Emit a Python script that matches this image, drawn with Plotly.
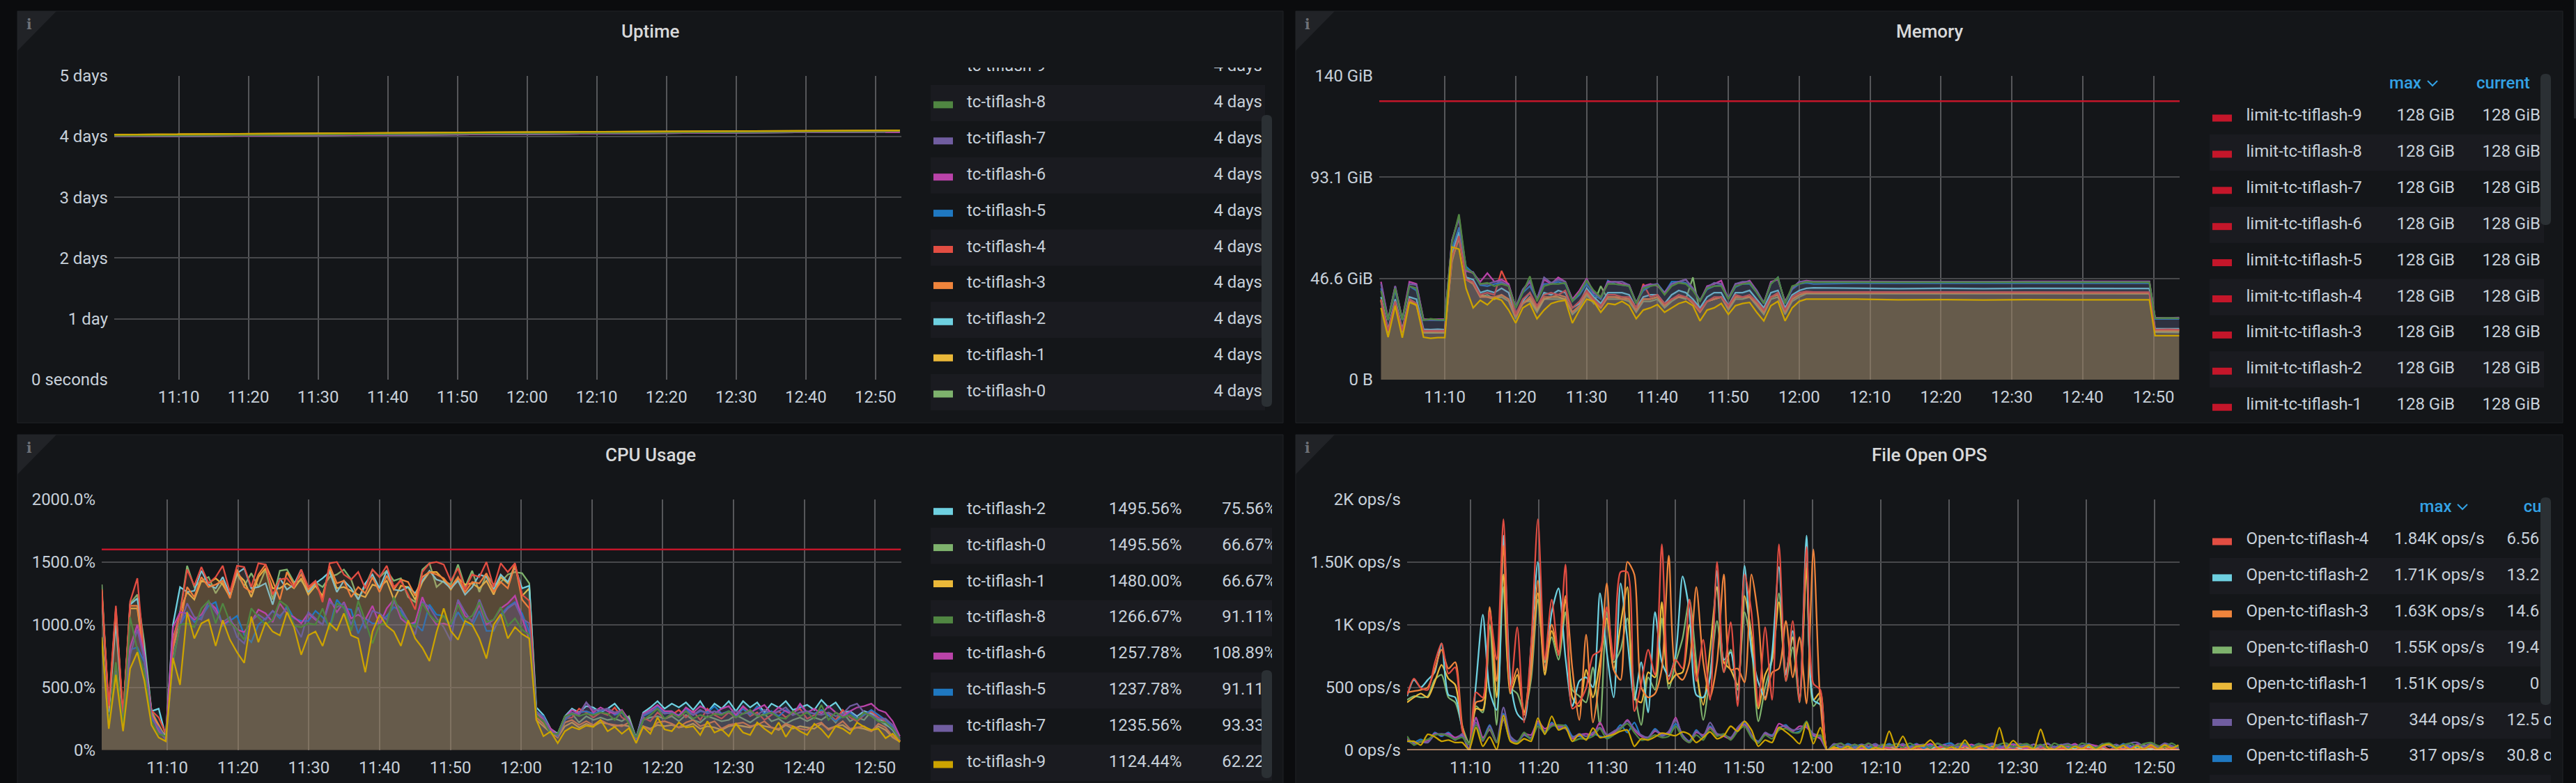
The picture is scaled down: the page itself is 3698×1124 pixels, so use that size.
import pandas as pd
import plotly.graph_objects as go

W, H = 3698, 1124
DAY = "2021-01-01 "
T_START, T_END = DAY + "11:00:45", DAY + "12:53:40"

COLORS = {"0": "#7EB26D", "1": "#EAB839", "2": "#6ED0E0", "3": "#EF843C", "4": "#E24D42",
          "5": "#1F78C1", "6": "#BA43A9", "7": "#705DA0", "8": "#508642", "9": "#CCA300"}
LIMIT = "#C4162A"
ORDER = ["0", "1", "2", "3", "4", "5", "6", "7", "8", "9"]

# ---------- Uptime (days) ----------
uptime_times = ["11:00:45", "11:55:00", "12:53:30"]
uptime = {
    "0": [4.01, 4.05, 4.09], "1": [4.03, 4.07, 4.10], "2": [4.00, 4.04, 4.08], "3": [4.00, 4.04, 4.08],
    "4": [4.01, 4.05, 4.09], "5": [4.00, 4.04, 4.08], "6": [4.00, 4.04, 4.08], "7": [4.01, 4.05, 4.09],
    "8": [4.01, 4.05, 4.09], "9": [4.03, 4.07, 4.10],
}
uptime_ticks = [0, 1, 2, 3, 4, 5]
uptime_ticktext = ["0 seconds", "1 day", "2 days", "3 days", "4 days", "5 days"]
uptime_legend = ["tc-tiflash-9", "tc-tiflash-8", "tc-tiflash-7", "tc-tiflash-6", "tc-tiflash-5",
                 "tc-tiflash-4", "tc-tiflash-3", "tc-tiflash-2", "tc-tiflash-1", "tc-tiflash-0"]
uptime_legend_current = ["4 days"] * 10

# ---------- Memory (GiB) ----------
mem_minutes = list(range(1, 63)) + [68, 74, 80, 86, 92, 98, 104, 109.4, 110.2, 112, 113.6]
mem = {
 "0": [36,21.5,35,21.6,37,35,21.5,21.5,21.7,21.5,
       54,67,46,44,38,39,37,38,36,28,
       36,36,31,37,37,37,37,30,33,39,
       35,43,37,37,37,36,31,36,36,37,
       33,36,38,37,47,31,36,37,38,32,
       37,37,38,34,30,37,38,30,36,38,
       39.5,39.5,
       39.6,39.5,39.5,39.4,39.5,39.5,39.4,39.5,21.8,21.8,21.7],
 "1": [36.5,22,35.5,22.1,36.5,34.5,22,22.1,22,22,
       55,65,47,44,39,38,37,39,37,29,
       35,37,32,37,38,38,37,31,34,40,
       36,33,38,38,38,37,32,37,37,38,
       34,37,38,38,36,32,36,37,38,33,
       38,38,38,35,31,38,39,31,37,39,
       40,39.8,
       39.8,39.7,39.8,39.7,39.6,39.7,39.8,39.7,22.3,22.3,22.4],
 "2": [38,23,37,23,38,37,23.2,23,23.2,23,
       58,68,47,46,40,41,40,42,40,30,
       36,40,33,40,39,41,40,33,35,42,
       38,35,40,40,40,39,33,38,39,39,
       35,39,41,40,37,33,38,40,40,34,
       40,40,41,37,33,40,41,33,39,41,
       42,42.2,
       42,41.8,42,41.8,42,41.9,42,41.9,23.5,23.5,23.4],
 "3": [36.5,22.2,35.5,22.2,36,34,22,22.2,22.1,22.1,
       55,66,46,44,38,38,38,39,37,29,
       35,38,33,38,38,39,38,31,34,40,
       36,33,38,38,37,37,32,37,37,38,
       34,37,38,38,35,31,36,37,38,33,
       38,38,38,35,31,38,39,31,37,39,
       40,40,
       40,39.9,39.8,40,39.9,39.7,39.8,39.9,22.7,22.6,22.7],
 "4": [37,22.5,36,22.6,37,35,22.5,22.5,22.7,22.5,
       56,66,46,45,39,40,39,50,43,30,
       37,40,34,39,40,39,41,33,36,41,
       37,34,39,39,38,38,33,44,38,39,
       35,37,39,38,36,32,36,38,38,34,
       39,38,39,36,32,38,40,32,38,40,
       40.5,40.3,
       40.3,40.2,40.3,40.1,40.3,40.2,40.2,40.2,23,23.2,23],
 "5": [42,27.4,41,27.4,43,41,27.4,27.4,27.4,27.3,
       60,70,52,49,43.5,43,44,44.5,43.5,33,
       40,43,37,44,44,45,44,36,39,44,
       39,37,45.5,44,43.5,43,35.5,41,43,44,
       40,45,45,44.5,41.5,36.5,41.5,43,43.5,37,
       42.5,44,44,40,35,44,47,35,41.5,44,
       44.5,44,
       44.3,44.4,44.3,44.3,44.4,44.3,44.3,44.3,27.9,28,27.9],
 "6": [45,27.8,43,27.8,45,44,27.8,27.9,27.8,27.8,
       64,75,50,49,45,49,45,46,44,33,
       41,45,37,46,44,47,45,37,41,46.5,
       40,38,45,45,44,43.5,35,43,44,43,
       40,44,45,46,42,36,43,44,45.5,37,
       44,44.5,45.5,41,35,45,46,36,42,45,
       45.5,45.2,
       45.2,45.1,45.2,45,45.2,45.1,45.2,45.2,28.5,28.4,28.5],
 "7": [44,27.6,43,27.6,44,43.5,27.6,27.6,27.7,27.6,
       64,74,50.5,49.5,44,44,45,45,43,33.5,
       41.5,45.5,37,47,44.5,46,45,36.5,40,46,
       40.5,37.5,44.5,45,45,43.5,35.5,42.5,43.5,44,
       39.5,44,45,46,42,36.5,42.5,44.5,44,37.5,
       44,45,45,41,35.5,44.5,46.5,35.5,42,45,
       45.2,45,
       45,45,44.9,45,45,45.1,45,45,28.3,28.3,28.4],
 "8": [40.8,27.5,42,27.5,43,42,27.3,28,27.6,27.5,
       63,76,51,49,44,44.5,43,44,43,33,
       40,47.5,36,43,44,44,44.5,36,40,45.5,
       41,38,44,44,43.5,43,35,42,43,43.5,
       39,43,44.5,44,41,36,42,43,43,37,
       43,44,44.5,40,35,44,47,35,43,44,
       45,44.8,
       44.8,44.9,44.7,44.8,44.9,44.7,44.8,44.8,28.2,28.4,28.2],
 "9": [33,19.5,34,19.3,35.5,34.4,19.5,19,19.3,19.3,
       61,60,42,33,36.5,34.4,37.6,36.5,32,26,
       33,35,28,32,35,36,36.5,26,32,37,
       36,31,35,34.5,36,34,28,32,33,34.5,
       31,33,35,36,34,27,32,33,35,30,
       34,35,35.5,31,27,34,36,27,33,36,
       37,37,
       37,36.7,36.8,36.6,36.8,36.7,36.8,36.7,20.2,20.3,20.2],
}
mem_limit = [128, 128]
mem_ticks = [0, 46.57, 93.13, 139.7]
mem_ticktext = ["0 B", "46.6 GiB", "93.1 GiB", "140 GiB"]
mem_legend = ["limit-tc-tiflash-9", "limit-tc-tiflash-8", "limit-tc-tiflash-7", "limit-tc-tiflash-6",
              "limit-tc-tiflash-5", "limit-tc-tiflash-4", "limit-tc-tiflash-3", "limit-tc-tiflash-2",
              "limit-tc-tiflash-1"]
mem_legend_max = ["128 GiB"] * 9
mem_legend_current = ["128 GiB"] * 9

# ---------- CPU (%) one row per ten minutes ----------
cpu = {
 "0": [1320,300,1130,240,1170,1240,850,310,200,100,
       800,1100,1470,1300,1350,1380,1250,1340,1230,1400,
       1310,1410,1300,1440,1200,1430,1440,1340,1350,1270,
       1340,1300,1380,1400,1440,1360,1200,1310,1440,1380,
       1430,1350,1370,1220,1180,1440,1490,1300,1350,1320,
       1480,1300,1430,1260,1400,1320,1340,1400,1420,1410,
       1330,290,250,150,110,240,290,220,270,240,
       260,240,250,230,270,90,240,260,270,250,
       270,230,280,240,220,270,250,230,240,280,
       250,220,260,290,230,250,210,240,260,230,
       260,240,280,220,300,230,260,240,310,240,
       200,170,67],
 "1": [1280,320,1100,270,1130,1130,720,280,190,80,
       880,1100,1260,1200,1350,1330,1370,1320,1220,1410,
       1350,1220,1380,1450,1290,1290,1330,1290,1370,1240,
       1310,1230,1440,1290,1300,1270,1240,1220,1320,1300,
       1350,1200,1310,1300,1200,1340,1420,1420,1360,1280,
       1370,1320,1330,1290,1350,1240,1380,1330,1480,1230,
       1290,240,190,140,100,190,220,180,210,190,
       220,210,190,200,190,70,190,170,200,190,
       200,180,190,210,170,190,180,160,190,200,
       190,180,210,190,180,160,200,170,190,180,
       170,210,170,190,200,160,180,170,150,190,
       160,100,67],
 "2": [1240,310,1020,250,1160,1210,800,310,330,110,
       1000,1300,1260,1270,1430,1320,1290,1380,1240,1410,
       1450,1290,1300,1330,1160,1370,1280,1320,1440,1260,
       1330,1370,1420,1260,1350,1290,1200,1330,1400,1290,
       1430,1280,1270,1300,1250,1350,1430,1360,1340,1290,
       1350,1240,1300,1400,1380,1280,1400,1340,1460,1290,
       1310,340,280,170,130,270,330,300,350,340,
       300,330,370,300,250,100,300,340,390,330,
       370,340,380,320,390,300,370,330,390,310,
       390,340,380,300,370,340,390,320,340,360,
       320,400,340,380,300,310,270,310,290,260,
       210,160,76],
 "3": [1270,330,1120,260,1150,1150,700,290,200,90,
       820,1000,1300,1220,1380,1300,1320,1350,1210,1440,
       1300,1260,1400,1480,1350,1200,1420,1320,1400,1280,
       1340,1210,1470,1330,1350,1220,1300,1250,1380,1260,
       1390,1280,1360,1340,1230,1380,1420,1400,1370,1300,
       1380,1260,1340,1330,1410,1260,1340,1290,1480,1200,
       1130,260,210,140,100,220,240,200,230,200,
       240,210,200,190,220,70,190,160,220,230,
       210,180,220,240,190,210,230,170,200,210,
       220,190,200,230,180,170,210,190,170,160,
       200,220,160,190,230,170,180,190,150,210,
       180,110,70],
 "4": [1280,350,1150,280,1185,1370,720,315,260,130,
       870,1090,1440,1310,1460,1330,1380,1470,1260,1470,
       1460,1300,1490,1480,1240,1360,1370,1300,1440,1300,
       1350,1180,1490,1500,1400,1360,1420,1290,1440,1380,
       1470,1300,1350,1240,1120,1420,1490,1500,1480,1350,
       1450,1280,1400,1380,1500,1300,1490,1420,1490,1240,
       1190,300,260,170,120,250,260,330,300,260,
       300,280,340,260,230,90,260,230,300,250,
       280,320,260,310,240,330,280,250,300,260,
       340,270,300,240,280,310,260,300,330,250,
       280,310,290,240,320,260,230,280,310,260,
       230,180,70],
 "5": [900,220,620,230,800,820,700,250,180,90,
       720,1000,1100,1020,1060,1150,1180,990,1030,1070,
       920,860,1000,1050,1110,1050,1150,1050,1030,1030,
       1110,1060,980,1200,1130,1120,930,1050,1010,1010,
       1070,1140,1110,1000,1010,950,1160,1080,1070,980,
       1100,1010,990,1110,950,950,1080,1140,1180,1090,
       940,300,270,160,110,240,290,300,310,290,
       310,330,280,300,220,80,270,300,350,300,
       290,280,330,280,310,300,350,290,310,270,
       330,280,350,290,310,270,320,280,360,300,
       290,320,280,230,270,300,250,280,320,280,
       240,180,91],
 "6": [870,200,650,220,820,1000,760,280,150,90,
       980,1100,1090,1040,1080,1180,1130,1000,1040,960,
       940,1020,1120,1090,1020,1170,1090,1060,1010,1090,
       1040,1000,1210,1100,1180,1050,1080,1040,1150,1000,
       1130,1200,1050,1000,1020,1220,1080,1000,1010,990,
       1190,1070,1030,1160,1000,1040,1130,1170,1230,1060,
       880,280,250,170,120,260,320,290,380,300,
       340,310,290,320,240,90,290,320,360,310,
       310,270,340,300,350,320,290,330,350,280,
       350,300,330,360,290,340,310,280,370,300,
       330,290,350,300,270,310,340,350,370,320,
       300,230,109],
 "7": [880,210,620,210,760,960,720,270,170,80,
       700,1000,1170,1060,1040,1190,1100,1020,1060,900,
       850,1030,1080,1040,1110,1070,1130,1000,900,1100,
       1050,1000,1180,1140,1170,1000,1140,970,1110,1090,
       1040,1180,1130,1030,920,1180,1140,1050,980,870,
       1200,1100,1020,1200,1060,960,1060,1130,1170,1050,
       1010,310,260,150,120,250,300,280,380,320,
       320,330,300,310,230,100,280,310,330,290,
       300,260,310,280,320,290,310,290,300,310,
       290,300,280,320,290,310,340,280,300,310,
       290,280,300,270,290,350,370,300,280,250,
       250,200,93],
 "8": [870,190,700,190,1060,800,620,230,130,110,
       700,1000,1010,980,1130,1190,1010,1170,1020,960,
       880,1130,1060,1000,1040,1190,1150,990,980,1010,
       1000,1130,960,1170,1140,950,1190,1030,850,1000,
       1010,1220,1080,1020,980,1170,1080,1020,1070,1000,
       1160,1040,1070,1180,1020,1040,1140,990,1050,960,
       920,280,230,130,130,270,290,270,290,280,
       300,290,240,310,210,100,240,280,330,250,
       290,260,310,250,280,260,290,280,310,260,
       290,320,270,280,300,260,250,310,270,300,
       250,360,240,300,260,280,240,300,270,230,
       220,170,91],
 "9": [900,170,600,150,650,780,550,200,100,70,
       735,520,1100,890,1010,1040,830,1035,880,780,
       695,1065,860,1020,945,915,1100,980,760,915,
       945,830,1010,955,1090,915,890,620,945,1080,
       990,945,830,1035,890,815,710,940,1130,950,
       880,1030,1000,890,730,1000,1083,890,980,925,
       890,240,110,148,55,150,185,165,195,185,
       240,150,185,130,175,55,185,130,260,165,
       150,220,180,190,120,230,140,165,110,210,
       140,120,220,170,130,220,105,190,150,120,
       210,165,100,190,170,130,220,185,160,170,
       95,130,62],
}
cpu_limit = [1600, 1600]
cpu_ticks = [0, 500, 1000, 1500, 2000]
cpu_ticktext = ["0%", "500.0%", "1000.0%", "1500.0%", "2000.0%"]
cpu_legend = ["tc-tiflash-2", "tc-tiflash-0", "tc-tiflash-1", "tc-tiflash-8",
              "tc-tiflash-6", "tc-tiflash-5", "tc-tiflash-7", "tc-tiflash-9"]
cpu_legend_max = ["1495.56%", "1495.56%", "1480.00%", "1266.67%", "1257.78%", "1237.78%", "1235.56%", "1124.44%"]
cpu_legend_current = ["75.56%", "66.67%", "66.67%", "91.11%", "108.89%", "91.11%", "93.33%", "62.22%"]

# ---------- File open (ops/s) one row per ten minutes ----------
fopen = {
 "0": [400,430,420,430,560,600,420,380,190,60,
       350,300,1000,200,1300,500,450,300,560,1200,
       700,900,720,1100,480,430,380,660,200,1100,
       700,800,1050,480,200,580,480,1050,490,700,
       890,1200,700,240,600,1030,620,800,480,1100,
       820,230,500,720,1250,550,820,380,1500,350,
       420,0,10,30,5,25,0,20,35,5,
       25,0,15,30,5,25,35,5,20,0,
       30,10,25,0,35,5,20,30,0,25,
       40,5,25,10,30,0,20,35,5,25,
       10,35,0,30,15,35,5,40,15,30,
       5,30,15],
 "1": [380,420,450,420,540,680,570,520,180,0,
       330,320,1130,420,1400,450,600,300,700,1250,
       600,950,770,1200,420,350,640,420,700,1050,
       640,1000,1300,420,380,620,580,1180,530,600,
       620,1000,620,360,800,1300,700,640,520,1230,
       920,330,600,720,1180,620,900,400,1450,400,
       460,0,5,0,15,0,10,5,0,20,
       0,10,0,15,0,5,20,0,10,0,
       15,0,10,5,0,20,0,10,0,15,
       5,0,15,0,10,0,20,5,0,10,
       0,15,5,0,20,0,10,0,15,5,
       0,10,0],
 "2": [430,560,500,560,620,850,440,420,170,0,
       530,1080,470,320,1710,560,290,240,820,1500,
       640,1100,1290,735,350,550,580,500,1250,780,
       420,1330,880,400,700,300,1100,700,590,760,
       1385,1100,440,420,580,1430,720,780,400,1470,
       790,540,420,770,1460,600,950,400,1710,400,
       360,0,20,5,0,15,25,0,10,30,
       5,0,20,10,30,0,15,25,5,0,
       20,30,0,15,5,25,10,0,30,15,
       0,20,5,25,0,30,10,15,0,25,
       5,20,0,30,10,0,25,15,5,20,
       0,15,13],
 "3": [460,470,480,500,640,800,650,700,200,0,
       380,400,1140,550,1630,500,650,280,620,1350,
       640,1000,780,1230,650,240,920,220,600,1330,
       640,560,1500,1400,500,420,450,650,1550,620,
       560,700,1300,700,420,700,1400,640,650,540,
       1400,1050,400,620,650,1030,580,900,370,1600,
       380,0,15,0,25,5,0,20,10,0,
       30,15,0,25,5,20,0,15,30,5,
       0,25,10,0,20,30,5,0,15,25,
       10,0,30,5,20,0,15,25,0,10,
       30,5,0,20,10,25,0,15,30,0,
       20,5,15],
 "4": [440,570,495,480,690,850,610,660,160,0,
       460,420,1100,720,1840,460,980,220,830,1840,
       720,1200,755,1480,330,385,495,755,790,1140,
       720,1420,1420,310,530,800,600,1640,560,720,
       650,1200,550,880,400,1500,620,1020,350,1400,
       1100,350,980,400,1640,550,1030,385,1620,530,
       480,0,0,15,5,0,20,5,0,25,
       10,0,15,0,20,5,0,10,25,0,
       15,5,0,20,10,0,25,5,15,0,
       20,0,10,25,0,15,5,0,20,10,
       0,25,5,15,0,20,0,10,25,5,
       0,15,7],
 "5": [70,60,85,60,140,110,140,90,110,10,
       250,90,200,60,290,100,65,120,90,210,
       130,220,170,200,110,110,90,130,110,100,
       130,200,140,220,110,100,170,120,130,210,
       120,70,160,100,190,120,120,90,160,210,
       110,70,130,120,170,200,140,150,200,110,
       100,0,45,20,50,30,45,15,40,25,
       50,20,45,30,50,15,40,25,45,55,
       20,40,30,50,15,45,35,20,50,30,
       45,20,35,50,25,45,15,40,30,50,
       20,45,35,15,50,25,45,30,40,20,
       45,25,31],
 "6": [90,50,70,75,130,120,130,100,120,15,
       260,100,160,60,240,80,60,130,120,230,
       170,200,190,190,90,120,130,120,220,120,
       140,170,240,160,110,100,150,130,140,260,
       100,60,140,120,180,120,110,90,170,200,
       120,60,130,110,210,180,150,190,180,120,
       90,0,40,50,25,45,15,50,30,40,
       20,50,35,15,45,30,50,20,40,15,
       50,30,45,20,40,50,15,35,45,25,
       15,45,30,50,20,40,30,50,15,45,
       35,25,50,20,40,15,45,30,50,25,
       50,20,25],
 "7": [80,45,65,60,120,130,120,80,130,10,
       220,70,190,70,340,110,70,120,100,220,
       150,210,180,170,100,130,110,140,180,120,
       150,180,230,170,120,100,160,110,150,240,
       120,70,150,110,220,130,120,100,180,230,
       120,65,140,110,180,190,160,170,190,130,
       110,0,50,25,40,15,45,30,50,20,
       40,25,50,15,35,45,20,50,30,40,
       25,50,15,45,30,55,20,40,15,50,
       30,45,20,55,15,40,50,25,35,45,
       15,50,30,45,20,55,60,30,50,20,
       55,35,12],
 "8": [110,40,70,85,120,125,110,85,100,45,
       200,80,170,60,250,70,60,140,85,190,
       140,190,200,190,70,90,90,110,170,90,
       120,170,210,140,80,90,120,100,110,190,
       100,60,120,80,170,110,130,80,150,190,
       100,55,120,90,160,170,140,140,230,90,
       120,0,35,55,20,45,25,55,15,45,
       30,50,20,55,25,40,15,55,30,20,
       45,55,20,50,35,15,45,55,25,40,
       50,20,45,15,55,30,40,20,55,35,
       20,45,55,25,40,55,30,50,60,35,
       25,55,20],
 "9": [70,70,40,125,107,70,80,60,60,5,
       180,30,105,5,275,70,50,90,70,255,
       125,270,160,180,70,125,80,175,100,110,
       125,150,160,30,90,80,105,135,125,115,
       145,125,60,100,145,90,115,190,150,230,
       160,30,80,60,180,145,100,50,220,50,
       180,0,25,5,30,0,35,0,20,5,
       150,20,110,5,30,35,80,20,0,25,
       5,80,10,30,30,10,180,15,75,25,
       30,10,165,20,5,35,5,30,10,40,
       5,35,45,15,35,5,35,5,40,10,
       40,15,40],
}
file_zero_floor = [0, 0]
file_ticks = [0, 500, 1000, 1500, 2000]
file_ticktext = ["0 ops/s", "500 ops/s", "1K ops/s", "1.50K ops/s", "2K ops/s"]
file_legend = ["Open-tc-tiflash-4", "Open-tc-tiflash-2", "Open-tc-tiflash-3", "Open-tc-tiflash-0",
               "Open-tc-tiflash-1", "Open-tc-tiflash-7", "Open-tc-tiflash-5"]
file_legend_max = ["1.84K ops/s", "1.71K ops/s", "1.63K ops/s", "1.55K ops/s", "1.51K ops/s", "344 ops/s", "317 ops/s"]
file_legend_current = ["6.56 ops/s", "13.2 ops/s", "14.6 ops/s", "19.4 ops/s", "0 ops/s", "12.5 ops/s", "30.8 ops/s"]


# ---------- layout helpers ----------
PAGE_BG, PANEL_BG, PANEL_BORDER = "#0b0c0e", "#141619", "#202226"
TEXT, TITLE_C, LINK = "#c7d0d9", "#d8d9da", "#33a2e5"
GRID_H, GRID_V, STRIPE, SCROLL, CORNER = "#47484b", "#56575a", "#1a1b20", "#2b3034", "#212327"
FONT = "Roboto"
FS = 24
LW = 2.3

def fx(p): return p / W
def fy(p): return 1 - p / H

def rgba(hex_color, a):
    h = hex_color.lstrip("#")
    return f"rgba({int(h[:2],16)},{int(h[2:4],16)},{int(h[4:],16)},{a})"

fig = go.Figure()
shapes, annotations = [], []

def paper_rect(x0, y0, x1, y1, fill, line=None, layer="below"):
    shapes.append(dict(type="rect", xref="paper", yref="paper", x0=fx(x0), x1=fx(x1), y0=fy(y1), y1=fy(y0),
                       fillcolor=fill, line=dict(width=1 if line else 0, color=line or fill), layer=layer))

def add_panel(box, title, title_y):
    x0, y0, x1, y1 = box
    paper_rect(x0, y0, x1, y1, PANEL_BG, PANEL_BORDER)
    path = f"M {fx(x0)} {fy(y0)} L {fx(x0+56)} {fy(y0)} L {fx(x0)} {fy(y0+57)} Z"
    shapes.append(dict(type="path", xref="paper", yref="paper", path=path, fillcolor=CORNER, line=dict(width=0), layer="below"))
    annotations.append(dict(xref="paper", yref="paper", x=fx(x0 + 17), y=fy(y0 + 19), text="i", showarrow=False,
                            xanchor="center", yanchor="middle",
                            font=dict(family="DejaVu Serif", size=20, color="#6f7278", weight="bold")))
    annotations.append(dict(xref="paper", yref="paper", x=fx((x0 + x1) / 2), y=fy(title_y), text=title, showarrow=False,
                            xanchor="center", yanchor="middle",
                            font=dict(family=FONT, size=26, color=TITLE_C, weight=500)))

axis_n = [0]

def new_axes():
    axis_n[0] += 1
    n = axis_n[0]
    sx = "" if n == 1 else str(n)
    return f"x{sx}", f"y{sx}", f"xaxis{sx}", f"yaxis{sx}"

layout_axes = {}

def add_plot(plot_box, yrange, ticks, ticktext, series, times, spline=False, fill=True, limit=None):
    x0, y0, x1, y1 = plot_box
    xa, ya, xk, yk = new_axes()
    layout_axes[xk] = dict(domain=[fx(x0), fx(x1)], anchor=ya, type="date", range=[T_START, T_END], automargin=False,
                           dtick=600000, tick0=DAY + "11:00:00", tickformat="%H:%M", showgrid=True, gridcolor=GRID_V,
                           gridwidth=2, zeroline=False, showline=False, ticks="", ticklabelstandoff=8,
                           tickfont=dict(family=FONT, size=FS, color=TEXT))
    layout_axes[yk] = dict(domain=[fy(y1), fy(y0)], anchor=xa, range=yrange, tickvals=ticks, ticktext=ticktext, automargin=False,
                           showgrid=True, gridcolor=GRID_H, gridwidth=2, zeroline=False, showline=False, ticks="",
                           ticklabelstandoff=8, tickfont=dict(family=FONT, size=FS, color=TEXT))
    for key in ORDER:
        vals = series[key]
        t = times(len(vals))
        c = COLORS[key]
        fig.add_trace(go.Scatter(
            x=t, y=vals, mode="lines", name="tc-tiflash-" + key, xaxis=xa, yaxis=ya,
            line=dict(color=c, width=LW, shape="spline" if spline else "linear", **({"smoothing": 0.7} if spline else {})),
            fill="tozeroy" if fill else None, fillcolor=rgba(c, 0.1) if fill else None))
    if limit is not None:
        fig.add_trace(go.Scatter(x=[T_START, T_END], y=limit[0], mode="lines", xaxis=xa, yaxis=ya, name=limit[2],
                                 line=dict(color=limit[1], width=2.5), cliponaxis=False))

def add_legend(clip_box, first_y, names, columns, key_of, headers=(), stripe_rows=None, scroll=None,
               swatch_x=None, name_x=None):
    lx0, ly0, lx1, ly1 = clip_box
    xa, ya, xk, yk = new_axes()
    layout_axes[xk] = dict(domain=[fx(lx0), fx(lx1)], anchor=ya, range=[lx0, lx1], visible=False, automargin=False)
    layout_axes[yk] = dict(domain=[fy(ly1), fy(ly0)], anchor=xa, range=[ly1, ly0], visible=False, automargin=False)
    step = 51.9
    rows = [first_y + i * step for i in range(len(names))]
    total = stripe_rows if stripe_rows else len(names)
    for i in range(total):
        if i % 2 == 1:
            cy = first_y + i * step
            top, bot = max(cy - 26, ly0), min(cy + 26, ly1)
            if top < bot:
                paper_rect(lx0, top, lx1, bot, STRIPE)
    for i, name in enumerate(names):
        cy = rows[i] + 2.5
        if cy - 4 >= ly0 and cy + 4 <= ly1:
            shapes.append(dict(type="rect", xref="paper", yref="paper", x0=fx(swatch_x), x1=fx(swatch_x + 28),
                               y0=fy(cy + 5), y1=fy(cy - 5), fillcolor=key_of(name), line=dict(width=0), layer="above"))
    tf = dict(family=FONT, size=FS, color=TEXT)
    fig.add_trace(go.Scatter(x=[name_x] * len(names), y=rows, text=names, mode="text", textposition="middle right",
                             textfont=tf, xaxis=xa, yaxis=ya, cliponaxis=True))
    for right, vals in columns:
        fig.add_trace(go.Scatter(x=[right] * len(vals), y=rows, text=vals, mode="text", textposition="middle left",
                                 textfont=tf, xaxis=xa, yaxis=ya, cliponaxis=True))
    for x, y, txt, pos in headers:
        fig.add_trace(go.Scatter(x=[x], y=[y], text=[txt], mode="text", textposition=pos, xaxis=xa, yaxis=ya,
                                 textfont=dict(family=FONT, size=FS, color=LINK, weight=500), cliponaxis=True))
    if scroll:
        sx0, sy0, sx1, sy1 = scroll
        r = 7
        path = (f"M {fx(sx0)} {fy(sy0+r)} Q {fx(sx0)} {fy(sy0)} {fx(sx0+r)} {fy(sy0)} L {fx(sx1-r)} {fy(sy0)} "
                f"Q {fx(sx1)} {fy(sy0)} {fx(sx1)} {fy(sy0+r)} L {fx(sx1)} {fy(sy1-r)} Q {fx(sx1)} {fy(sy1)} {fx(sx1-r)} {fy(sy1)} "
                f"L {fx(sx0+r)} {fy(sy1)} Q {fx(sx0)} {fy(sy1)} {fx(sx0)} {fy(sy1-r)} Z")
        shapes.append(dict(type="path", xref="paper", yref="paper", path=path, fillcolor=SCROLL, line=dict(width=0), layer="above"))

def chevron(cx, cy):
    path = f"M {fx(cx-7)} {fy(cy-4)} L {fx(cx)} {fy(cy+3)} L {fx(cx+7)} {fy(cy-4)}"
    shapes.append(dict(type="path", xref="paper", yref="paper", path=path, line=dict(color=LINK, width=2), layer="above"))

def uniform_times(n):
    return pd.date_range(T_START, DAY + "12:53:30", periods=n).strftime("%Y-%m-%d %H:%M:%S").tolist()

def mem_times(n):
    base = pd.Timestamp(DAY + "11:00:00")
    return [(base + pd.Timedelta(minutes=m)).strftime("%Y-%m-%d %H:%M:%S") for m in mem_minutes]

def uptime_time_list(n):
    return [DAY + t for t in uptime_times]

def key_color(name):
    return COLORS[name[-1]]

# panels
add_panel((25, 16, 1842, 607), "Uptime", 45)
add_panel((1860, 16, 3679, 607), "Memory", 45)
add_panel((25, 624, 1842, 1135), "CPU Usage", 653)
add_panel((1860, 624, 3679, 1135), "File Open OPS", 653)

add_plot((164, 108.7, 1293.5, 545), [0, 5], uptime_ticks, uptime_ticktext, uptime, uptime_time_list, fill=False)
add_plot((1980, 108.7, 3129, 545), [0, 139.7], mem_ticks, mem_ticktext, mem, mem_times,
         limit=(mem_limit, LIMIT, "limit"))
add_plot((146, 716.7, 1293.5, 1076.7), [0, 2000], cpu_ticks, cpu_ticktext, cpu, uniform_times,
         limit=(cpu_limit, LIMIT, "limit"))
add_plot((2020, 716.7, 3129, 1076.7), [0, 2000], file_ticks, file_ticktext, fopen, uniform_times, spline=True, fill=False,
         limit=(file_zero_floor, "#F9BA8F", "floor"))

add_legend((1336, 97, 1816, 590), 96, uptime_legend, [(1812, uptime_legend_current)], key_color,
           scroll=(1811, 165, 1826, 584), swatch_x=1340, name_x=1388)
add_legend((3172, 100, 3652, 591), 167, mem_legend, [(3524, mem_legend_max), (3647, mem_legend_current)],
           lambda s: LIMIT, headers=[(3430, 121, "max", "middle right"), (3555, 121, "current", "middle right")],
           scroll=(3647, 106, 3662, 323), swatch_x=3176, name_x=3224.5)
chevron(3492, 120)
add_legend((1336, 712, 1826, 1124), 731.7, cpu_legend,
           [(1696.6, cpu_legend_max), (1832, cpu_legend_current)], key_color,
           scroll=(1811, 962, 1826, 1117), swatch_x=1340, name_x=1388)
add_legend((3172, 712, 3662, 1124), 775, file_legend,
           [(3566.6, file_legend_max), (3713, file_legend_current)], key_color,
           headers=[(3473.6, 729, "max", "middle right"), (3622.7, 729, "current", "middle right")],
           stripe_rows=8, scroll=(3647, 714, 3662, 1012), swatch_x=3176, name_x=3224.5)
chevron(3535, 728)

# page scrollbar sliver
paper_rect(3695, 0, 3698, 170, "#25282c", layer="above")

fig.update_layout(
    width=W, height=H, margin=dict(l=0, r=0, t=0, b=0), paper_bgcolor=PAGE_BG, plot_bgcolor="rgba(0,0,0,0)",
    showlegend=False, shapes=shapes, annotations=annotations, font=dict(family=FONT, color=TEXT), **layout_axes)
fig.write_html("out.html", config={"displayModeBar": False},
               post_script="document.body.style.margin='0';document.body.style.background='#0b0c0e';")
